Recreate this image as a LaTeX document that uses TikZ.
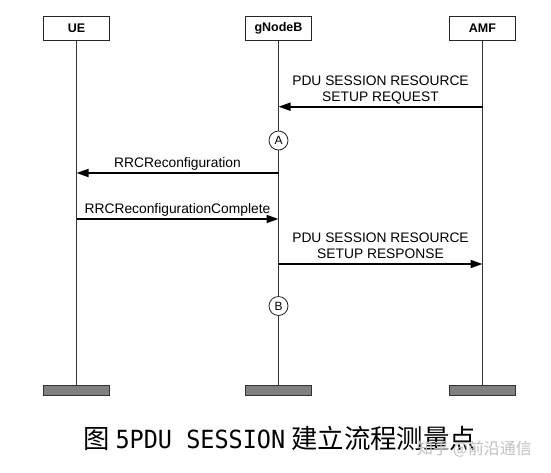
\documentclass[tikz,border=0pt]{standalone}
\usepackage{fontspec}
\setmainfont{Liberation Sans}
\newfontfamily\cjk{Noto Sans CJK SC}
\newfontfamily\capmono[FakeStretch=0.94]{DejaVu Sans Mono}
\usetikzlibrary{arrows.meta}
\tikzset{
  actorbox/.style={draw=black!85, line width=0.9pt, fill=white, minimum width=66pt, minimum height=23.5pt, inner sep=0pt, font=\fontsize{12.5}{14}\selectfont\bfseries},
  endbar/.style={draw=black!80, line width=0.9pt, fill=black!50, minimum width=66pt, minimum height=10pt, inner sep=0pt},
  lifeline/.style={draw=black!80, line width=0.9pt},
  msgarrow/.style={line width=1.9pt, -{Triangle[length=12pt,width=8pt]}},
  msglabel/.style={midway, above=4.5pt, inner sep=0pt, text depth=0pt, align=center, font=\fontsize{13.8}{16}\selectfont},
  checkpoint/.style={circle, draw=black!85, line width=0.8pt, fill=white, minimum size=19pt, inner sep=0pt, font=\fontsize{12}{12}\selectfont}
}
\begin{document}
\begin{tikzpicture}[x=1pt,y=-1pt]
\useasboundingbox (0,0) rectangle (551,472);
\node[actorbox] (ue) at (76.5,28.5) {UE};
\node[actorbox] (gnb) at (278.5,28.5) {gNodeB};
\node[actorbox] (amf) at (482.5,28.5) {AMF};
\node[endbar] (ueend) at (76.5,390.7) {};
\node[endbar] (gnbend) at (278.5,390.7) {};
\node[endbar] (amfend) at (482.5,390.7) {};
\draw[lifeline] (ue) -- (ueend);
\draw[lifeline] (gnb) -- (gnbend);
\draw[lifeline] (amf) -- (amfend);
\coordinate (t1) at (0,106.7);
\coordinate (t2) at (0,173);
\coordinate (t3) at (0,219);
\coordinate (t4) at (0,264);
\draw[msgarrow] (amf |- t1) -- (gnb |- t1) node[msglabel] {PDU SESSION RESOURCE\\SETUP REQUEST};
\node[checkpoint] (pointa) at (gnb |- 0,140.5) {A};
\draw[msgarrow] (gnb |- t2) -- (ue |- t2) node[msglabel] {RRCReconfiguration};
\draw[msgarrow] (ue |- t3) -- (gnb |- t3) node[msglabel] {RRCReconfigurationComplete};
\draw[msgarrow] (gnb |- t4) -- (amf |- t4) node[msglabel] {PDU SESSION RESOURCE\\SETUP RESPONSE};
\node[checkpoint] (pointb) at (gnb |- 0,306) {B};
\node[anchor=base west, inner sep=0pt] (caption) at (83,448) {\cjk\fontsize{26.4}{30}\selectfont 图 \capmono\fontsize{25}{30}\selectfont 5PDU SESSION\cjk\fontsize{26.4}{30}\selectfont{} 建立流程测量点};
\node[anchor=west, inner sep=0pt, text=black!25, font=\cjk\fontsize{16}{16}\selectfont] (watermark) at (417,449) {知乎 @前沿通信};
\end{tikzpicture}
\end{document}
